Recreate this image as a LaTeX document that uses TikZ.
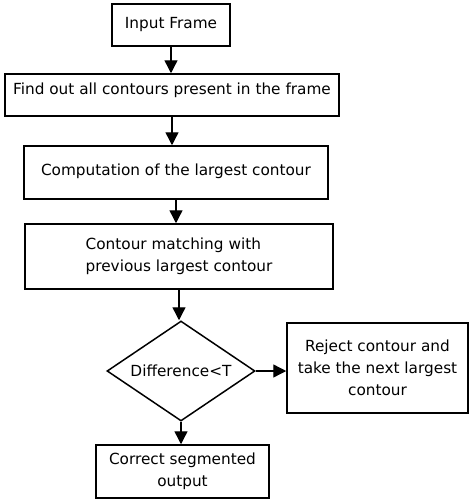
\documentclass[tikz,border=0pt]{standalone}
\usepackage{fontspec}
\setmainfont{DejaVu Sans}
\usetikzlibrary{shapes.geometric,arrows.meta}
\begin{document}
\begin{tikzpicture}[x=1pt,y=-1pt,
  txt/.style={font=\fontsize{15.3}{22}\selectfont},
  box/.style={draw, line width=1.5pt, rectangle, inner sep=0pt, txt},
  dia/.style={draw, line width=1.5pt, diamond, inner sep=0pt, minimum width=148pt, minimum height=100pt},
  arr/.style={line width=1.4pt, -{Triangle[width=13pt,length=13pt]}},
  lift/.style={text height=11pt, text depth=#1}
]
\useasboundingbox (0,0) rectangle (474,504);
\node[box, minimum width=118pt, minimum height=42pt] (in) at (171,25) {Input Frame};
\node[box, minimum width=334pt, minimum height=42pt, lift=13pt] (find) at (172,95) {Find out all contours present in the frame};
\node[box, minimum width=304pt, minimum height=53pt, lift=6pt] (comp) at (176,172.5) {Computation of the largest contour};
\node[box, minimum width=308pt, minimum height=65pt, align=left] (match) at (179,256.5) {Contour matching with\\previous largest contour};
\node[dia] (diff) at (181,371) {};
\node[txt] (difft) at (diff.center) {Difference<T};
\node[box, minimum width=181pt, minimum height=90pt, align=center] (rej) at (377.5,368) {Reject contour and\\take the next largest\\contour};
\node[box, minimum width=173pt, minimum height=53pt, align=center] (out) at (182.5,471.5) {Correct segmented\\output};
\draw[arr] (in.south) -- (in.south |- find.north);
\draw[arr] (find.south) -- (find.south |- comp.north);
\draw[arr] (comp.south) -- (comp.south |- match.north);
\draw[arr] (match.south) -- (match.south |- diff.north);
\draw[arr] (diff.east) -- (diff.east -| rej.west);
\draw[arr] (diff.south) -- (diff.south |- out.north);
\end{tikzpicture}
\end{document}
